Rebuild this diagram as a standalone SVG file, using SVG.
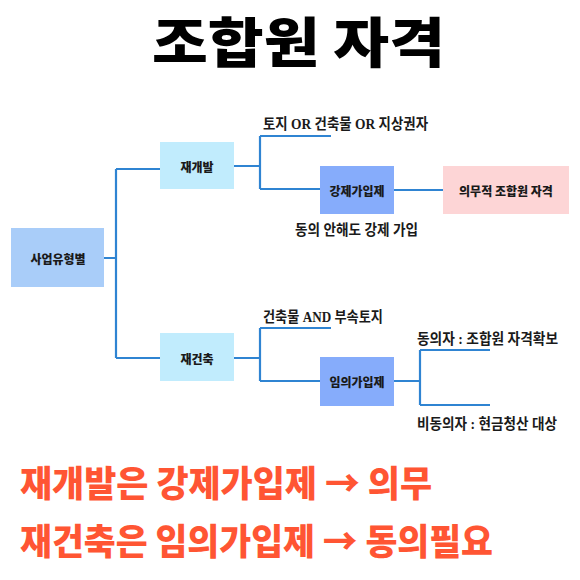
<svg xmlns="http://www.w3.org/2000/svg" width="580" height="580" viewBox="0 0 580 580">
<style>
.ln{fill:none;stroke:#2f84d2;stroke-width:2.2}
.nt{font-family:"Noto Sans CJK KR","Liberation Sans",sans-serif;font-weight:900;font-size:12px;fill:#1a1a1a;text-anchor:middle;dominant-baseline:central}
.lb{font-family:"Liberation Serif","Noto Sans CJK KR",serif;font-weight:700;font-size:15px;fill:#1a1a1a}
.big{font-family:"Noto Sans CJK KR",sans-serif;font-weight:900;fill:#ff5533}
</style>
<rect width="580" height="580" fill="#ffffff"/>
<text x="152" y="63" font-family="Noto Sans CJK KR, sans-serif" font-weight="900" font-size="54" fill="#000" textLength="293" lengthAdjust="spacingAndGlyphs">조합원 자격</text>
<g id="connectors">
<path class="ln" d="M104,258 H116 M116,169 V358 M116,169 H160 M116,358 H160"/>
<path class="ln" d="M234,166 H260 M260,136 V189 M260,136 H331 M260,189 H320"/>
<path class="ln" d="M394,190 H443"/>
<path class="ln" d="M234,358 H260 M260,328 V381 M260,328 H331 M260,381 H320"/>
<path class="ln" d="M394,381 H420 M420,350 V405 M420,350 H490 M420,405 H490"/>
</g>
<g id="n-type"><rect x="11" y="228" width="93" height="59" fill="#a9cdf9"/><text class="nt" x="58" y="258">사업유형별</text></g>
<g id="n-redev"><rect x="160" y="142" width="74" height="47" fill="#c1ecfd"/><text class="nt" x="197" y="166">재개발</text></g>
<g id="n-rebuild"><rect x="160" y="333" width="74" height="48" fill="#c1ecfd"/><text class="nt" x="197" y="358">재건축</text></g>
<g id="n-forced"><rect x="320" y="166" width="74" height="48" fill="#86acfb"/><text class="nt" x="357" y="190">강제가입제</text></g>
<g id="n-duty"><rect x="443" y="166" width="126" height="48" fill="#fdd5d6"/><text class="nt" x="506" y="190">의무적 조합원 자격</text></g>
<g id="n-voluntary"><rect x="320" y="357" width="74" height="49" fill="#86acfb"/><text class="nt" x="357" y="381">임의가입제</text></g>
<g id="labels">
<text class="lb" x="263" y="129" textLength="165" lengthAdjust="spacingAndGlyphs">토지 OR 건축물 OR 지상권자</text>
<text class="lb" x="295" y="235" textLength="123" lengthAdjust="spacingAndGlyphs">동의 안해도 강제 가입</text>
<text class="lb" x="263" y="322" textLength="120" lengthAdjust="spacingAndGlyphs">건축물 AND 부속토지</text>
<text class="lb" x="417" y="344" textLength="141" lengthAdjust="spacingAndGlyphs">동의자 : 조합원 자격확보</text>
<text class="lb" x="417" y="429" textLength="140" lengthAdjust="spacingAndGlyphs">비동의자 : 현금청산 대상</text>
</g>
<text class="big" x="20" y="497" font-size="36" textLength="412" lengthAdjust="spacingAndGlyphs">재개발은 강제가입제 → 의무</text>
<text class="big" x="20" y="555" font-size="36" textLength="473" lengthAdjust="spacingAndGlyphs">재건축은 임의가입제 → 동의필요</text>
</svg>
